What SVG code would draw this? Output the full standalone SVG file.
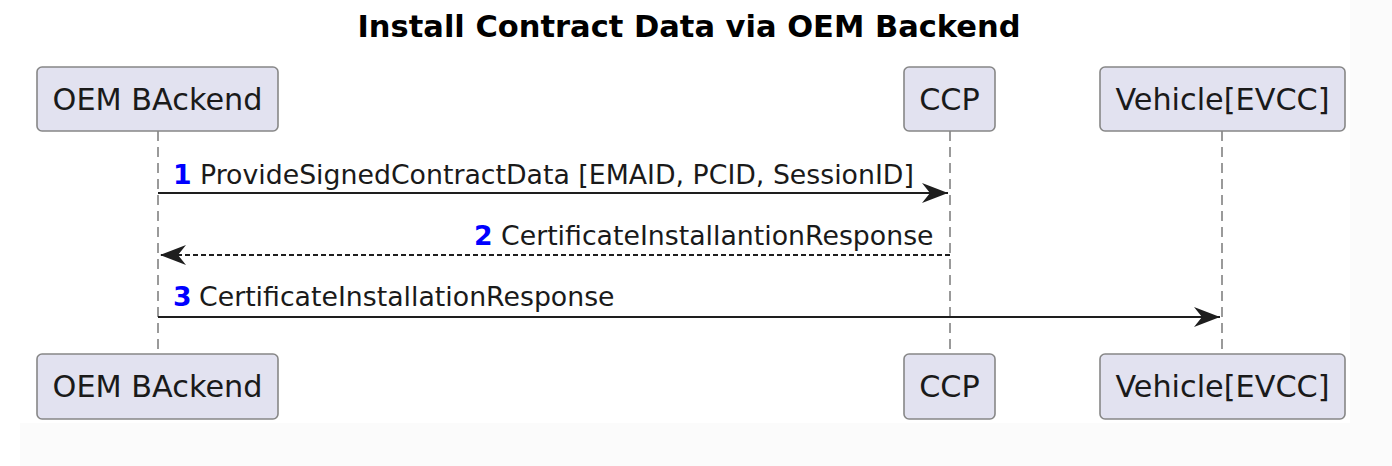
<svg xmlns="http://www.w3.org/2000/svg" width="1392" height="466" viewBox="0 0 1392 466">
<style>
.bg{fill:#ffffff}
.band{fill:#fbfbfb}
.title{font-family:"DejaVu Sans","Liberation Sans",sans-serif;font-weight:bold;font-size:30.5px;fill:#000000;text-anchor:middle}
.pbox{fill:#E2E2F0;stroke:#878787;stroke-width:1.6}
.ptext{font-family:"DejaVu Sans","Liberation Sans",sans-serif;font-size:30.3px;fill:#1a1a1a;text-anchor:middle}
.life{stroke:#7a7a7a;stroke-width:1.5;stroke-dasharray:10,6;fill:none}
.msg{stroke:#1e1e1e;stroke-width:2;fill:none}
.dash{stroke-dasharray:5,3}
.num{font-family:"DejaVu Sans","Liberation Sans",sans-serif;font-weight:bold;font-size:26.7px;fill:#0000FF}
.mtext{font-family:"DejaVu Sans","Liberation Sans",sans-serif;font-size:26.75px;fill:#1a1a1a}
</style>
<defs>
<marker id="ah" viewBox="0 0 26 20" refX="26" refY="10" markerWidth="26" markerHeight="20" markerUnits="userSpaceOnUse" orient="auto">
<path d="M0,0 L26,10 L0,20 L8,10 Z" fill="#1e1e1e" stroke="none"/>
</marker>
</defs>
<rect class="bg" x="0" y="0" width="1392" height="466"/>
<rect class="band" x="1350" y="0" width="42" height="466"/>
<rect class="band" x="20" y="423" width="1372" height="43"/>
<text class="title" x="689" y="37">Install Contract Data via OEM Backend</text>
<g id="lifelines">
<line class="life" x1="158" y1="131" x2="158" y2="354"/>
<line class="life" x1="950" y1="131" x2="950" y2="354"/>
<line class="life" x1="1222" y1="131" x2="1222" y2="354"/>
</g>
<g id="oem_top"><rect class="pbox" x="37" y="67" width="241" height="64" rx="5"/><text class="ptext" x="157.5" y="110">OEM BAckend</text></g>
<g id="ccp_top"><rect class="pbox" x="904" y="67" width="91" height="64" rx="5"/><text class="ptext" x="949.5" y="110">CCP</text></g>
<g id="vehicle_top"><rect class="pbox" x="1100" y="67" width="245" height="64" rx="5"/><text class="ptext" x="1222.5" y="110">Vehicle[EVCC]</text></g>
<g id="oem_bottom"><rect class="pbox" x="37" y="354" width="241" height="65" rx="5"/><text class="ptext" x="157.5" y="397">OEM BAckend</text></g>
<g id="ccp_bottom"><rect class="pbox" x="904" y="354" width="91" height="65" rx="5"/><text class="ptext" x="949.5" y="397">CCP</text></g>
<g id="vehicle_bottom"><rect class="pbox" x="1100" y="354" width="245" height="65" rx="5"/><text class="ptext" x="1222.5" y="397">Vehicle[EVCC]</text></g>
<g id="connectors">
<line class="msg" x1="158" y1="193" x2="948" y2="193" marker-end="url(#ah)"/>
<text class="num" x="173" y="184">1</text><text class="mtext" x="200" y="184">ProvideSignedContractData [EMAID, PCID, SessionID]</text>
<line class="msg dash" x1="950" y1="255" x2="160" y2="255" marker-end="url(#ah)"/>
<text class="num" x="474" y="245">2</text><text class="mtext" x="501" y="245">CertificateInstallantionResponse</text>
<line class="msg" x1="158" y1="317" x2="1220" y2="317" marker-end="url(#ah)"/>
<text class="num" x="173" y="306">3</text><text class="mtext" x="199" y="306">CertificateInstallationResponse</text>
</g>
</svg>
